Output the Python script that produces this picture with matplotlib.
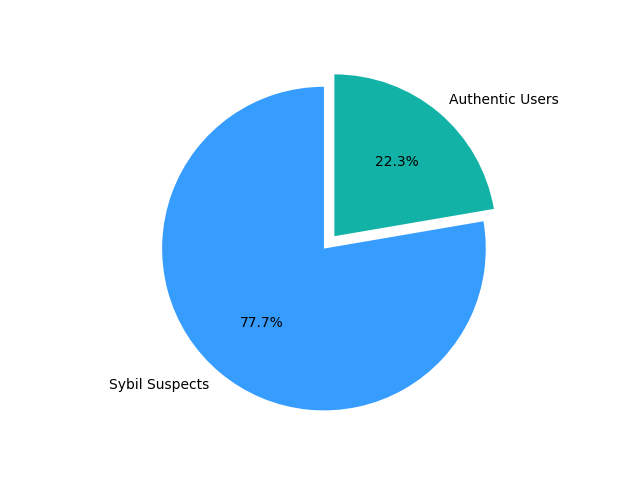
import matplotlib
matplotlib.use("Agg")
import matplotlib.pyplot as plt

labels = ["Authentic Users", "Sybil Suspects"]
shares = [22.3, 77.7]
colors = ["#12B3A6", "#369DFF"]
explode = [0.1, 0]

fig, ax = plt.subplots(figsize=(6.4, 4.8), dpi=100)
ax.pie(shares, labels=labels, colors=colors, explode=explode,
       autopct="%1.1f%%", startangle=90, counterclock=False)
ax.axis("equal")

fig.savefig("out.png")
